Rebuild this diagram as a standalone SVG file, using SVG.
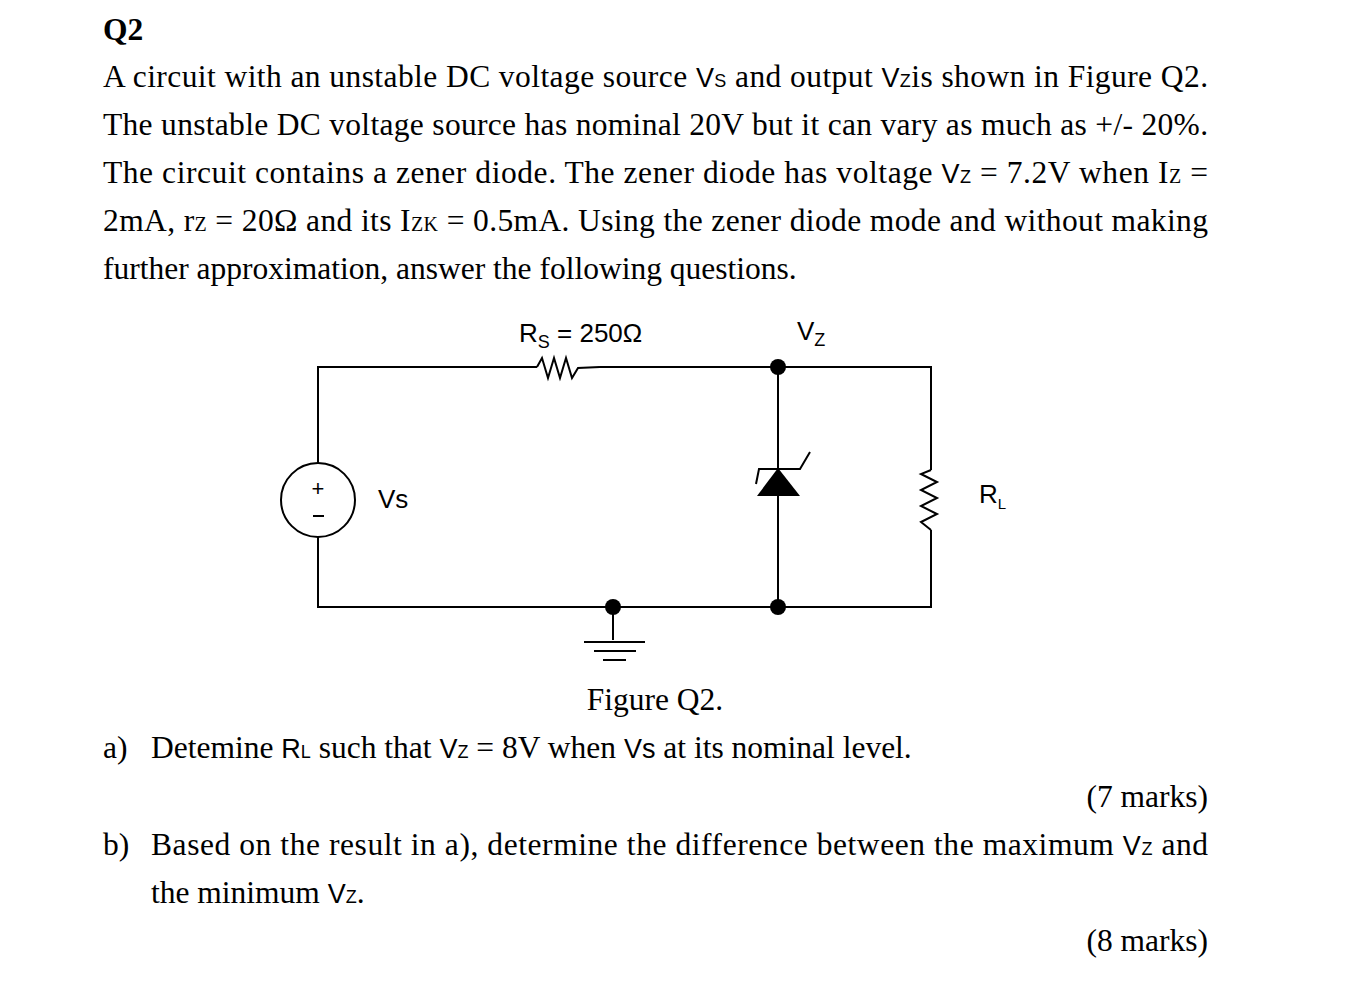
<svg xmlns="http://www.w3.org/2000/svg" width="1358" height="994" viewBox="0 0 1358 994">
<style>
.t{font-family:"Liberation Serif",serif;font-size:31.5px;fill:#000}
.s{font-family:"Liberation Sans",sans-serif;fill:#000}
.w{stroke:#000;stroke-width:2;fill:none}
</style>
<rect width="1358" height="994" fill="#fff"/>
<text class="t" x="103" y="40" font-weight="bold">Q2</text>
<text class="t" x="103" y="87" textLength="1105" lengthAdjust="spacing">A circuit with an unstable DC voltage source <tspan class="s" font-size="27">V<tspan font-size="18">S</tspan></tspan> and output <tspan class="s" font-size="27">V<tspan font-size="18">Z</tspan></tspan>is shown in Figure Q2.</text>
<text class="t" x="103" y="135" textLength="1105" lengthAdjust="spacing">The unstable DC voltage source has nominal 20V but it can vary as much as +/- 20%.</text>
<text class="t" x="103" y="183" textLength="1105" lengthAdjust="spacing">The circuit contains a zener diode. The zener diode has voltage <tspan class="s" font-size="27">V<tspan font-size="18">Z</tspan></tspan> = 7.2V when I<tspan font-size="20">Z</tspan> =</text>
<text class="t" x="103" y="231" textLength="1105" lengthAdjust="spacing">2mA, r<tspan font-size="20">Z</tspan> = 20Ω and its I<tspan font-size="20">ZK</tspan> = 0.5mA. Using the zener diode mode and without making</text>
<text class="t" x="103" y="279">further approximation, answer the following questions.</text>
<g id="labels">
<text class="s" x="519" y="342" font-size="26">R<tspan font-size="18" dy="6">S</tspan><tspan dy="-6"> = 250Ω</tspan></text>
<text class="s" x="797" y="340" font-size="26">V<tspan font-size="18" dy="6">Z</tspan></text>
<text class="s" x="378" y="508" font-size="26">Vs</text>
<text class="s" x="979" y="503" font-size="26">R<tspan font-size="15" dy="6">L</tspan></text>
</g>
<g id="connectors">
<polyline class="w" points="318,463 318,367 537,367"/>
<polyline class="w" points="600,367 931,367 931,470"/>
<polyline class="w" points="931,530 931,607 318,607 318,537"/>
<line class="w" x1="778" y1="367" x2="778" y2="607"/>
<line class="w" x1="613" y1="607" x2="613" y2="640"/>
</g>
<g id="Rs"><polyline class="w" points="537,367 542,358 548,378 554,358 560,378 566,358 572,378 578,368 600,367"/></g>
<g id="Vs"><circle class="w" cx="318" cy="500" r="37"/>
<text class="s" x="318" y="496" font-size="22" text-anchor="middle">+</text>
<line class="w" x1="313" y1="516" x2="324" y2="516"/></g>
<g id="D"><polygon points="778,468 757,496 800,496" fill="#000"/>
<polyline class="w" stroke-width="3" points="756,484 759,469 800,469 810,452"/></g>
<g id="RL"><polyline class="w" points="931,470 921,474 937,482 921,490 937,498 921,506 937,514 921,522 931,530"/></g>
<g id="nodes"><circle cx="778" cy="367" r="8"/><circle cx="778" cy="607" r="8"/><circle cx="613" cy="607" r="8"/></g>
<g id="gnd"><line class="w" x1="584" y1="642" x2="645" y2="642"/><line class="w" x1="594" y1="651" x2="636" y2="651"/><line class="w" x1="603" y1="660" x2="626" y2="660"/></g>
<text class="t" x="655" y="710" text-anchor="middle">Figure Q2.</text>
<text class="t" x="103" y="758">a)</text>
<text class="t" x="151" y="758">Detemine <tspan class="s" font-size="27">R<tspan font-size="18">L</tspan></tspan> such that <tspan class="s" font-size="27">V<tspan font-size="18">Z</tspan></tspan> = 8V when <tspan class="s" font-size="27">Vs</tspan> at its nominal level.</text>
<text class="t" x="1208" y="807" text-anchor="end">(7 marks)</text>
<text class="t" x="103" y="855">b)</text>
<text class="t" x="151" y="855" textLength="1057" lengthAdjust="spacing">Based on the result in a), determine the difference between the maximum <tspan class="s" font-size="27">V<tspan font-size="18">Z</tspan></tspan> and</text>
<text class="t" x="151" y="903">the minimum <tspan class="s" font-size="27">V<tspan font-size="18">Z</tspan></tspan>.</text>
<text class="t" x="1208" y="951" text-anchor="end">(8 marks)</text>
</svg>
